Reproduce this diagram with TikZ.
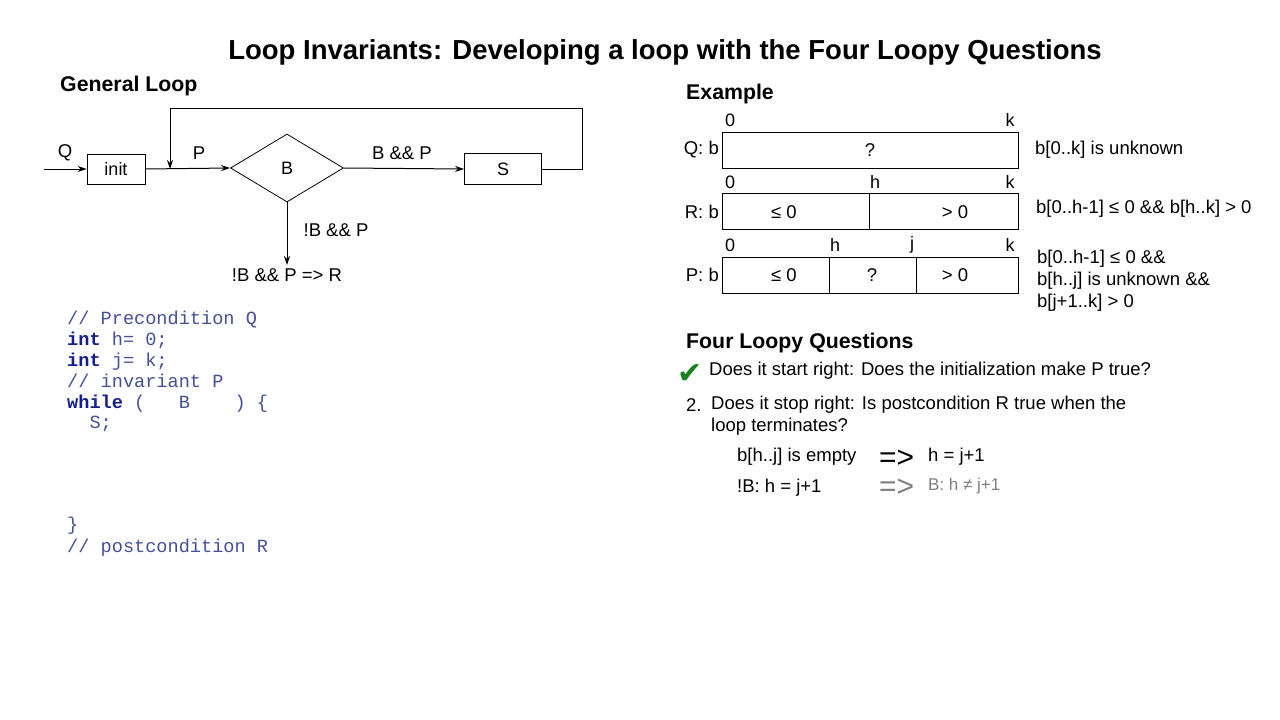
\documentclass[tikz,border=0pt]{standalone}
\usepackage{fontspec}
\setmainfont{Liberation Sans}
\setmonofont{Liberation Mono}
\newfontfamily\djv{DejaVu Sans}
\usetikzlibrary{shapes.geometric,arrows.meta}
\definecolor{codeblue}{RGB}{70,80,150}
\definecolor{kwblue}{RGB}{20,30,140}
\definecolor{chk}{RGB}{20,130,30}
\begin{document}
\begin{tikzpicture}[x=1pt,y=-1pt,
  txt/.style={inner sep=0pt,font=\fontsize{18.5}{22}\selectfont},
  hd/.style={inner sep=0pt,anchor=west,font=\fontsize{21.3}{24}\selectfont\bfseries},
  box/.style={draw,line width=0.8pt,minimum height=36pt,inner sep=0pt},
  arr/.style={-{Stealth[length=9pt,width=6pt]},line width=1pt},
  code/.style={inner sep=0pt,anchor=west,text height=13pt,text depth=4pt,text=codeblue,font=\fontsize{18.6}{20}\ttfamily},
  idx/.style={inner sep=0pt,font=\fontsize{18}{20}\selectfont}]
\useasboundingbox[fill=white] (0,0) rectangle (1280,720);
\node[inner sep=0pt,font=\fontsize{27.5}{30}\selectfont\bfseries] (title) at (665,52) {Loop Invariants: Developing a loop with the Four Loopy Questions};
\node[hd] (gl) at (60,86) {General Loop};
% flow chart
\node[draw,line width=0.8pt,minimum width=58pt,minimum height=30pt,inner sep=0pt,font=\fontsize{18}{20}\selectfont] (init) at (116,169) {init};
\node[draw,line width=0.8pt,minimum width=77pt,minimum height=31pt,inner sep=0pt,font=\fontsize{18}{20}\selectfont] (S) at (503,169) {S};
\node[draw,diamond,aspect=1.65,line width=0.8pt,minimum width=113pt,minimum height=68pt,inner sep=0pt,font=\fontsize{18}{20}\selectfont] (B) at (287,168) {B};
\coordinate (qs) at (44,169);
\coordinate (jn) at (170,169);
\coordinate (c1) at (582,169);
\coordinate (c2) at (582,108);
\coordinate (c3) at (170,108);
\coordinate (ex) at (287,265);
\draw[arr] (qs) -- (init.west);
\draw[arr] (init.east) -- (B.west);
\draw[arr] (B.east) -- (S.west);
\draw[line width=1pt] (S.east) -- (c1) -- (c2) -- (c3);
\draw[arr] (c3) -- (jn);
\draw[arr] (B.south) -- (ex);
\node[txt] (lq) at (65,153) {Q};
\node[txt] (lp) at (199,153) {P};
\node[txt] (lbp) at (402,153) {B \&\& P};
\node[txt] (lnb) at (336,230) {!B \&\& P};
\node[txt] (lr) at (287,275) {!B \&\& P => R};
% code
\node[code] (c1t) at (67,320) {// Precondition Q};
\node[code] (c2t) at (67,341) {\textcolor{kwblue}{\textbf{int}} h= 0;};
\node[code] (c3t) at (67,362) {\textcolor{kwblue}{\textbf{int}} j= k;};
\node[code] (c4t) at (67,383) {// invariant P};
\node[code] (c5t) at (67,404) {\textcolor{kwblue}{\textbf{while}} (~~~B~~~~) \{};
\node[code] (c6t) at (67,424) {~~S;};
\node[code] (c7t) at (67,526) {\}};
\node[code] (c8t) at (67,548) {// postcondition R};
% example
\node[hd] (exh) at (686,94) {Example};
\node[box,minimum width=296pt,anchor=north west] (qb) at (722,132) {};
\node[txt] at (870,150) {?};
\node[txt,anchor=east] (ql) at (719,150) {Q: b};
\node[idx] at (730,120) {0};
\node[idx] at (1010,120) {k};
\node[txt,anchor=west] (qt) at (1035,150) {b[0..k] is unknown};
% R
\node[box,minimum width=147pt,anchor=north west] (r1) at (722,193) {};
\node[box,minimum width=149pt,anchor=north west] (r2) at (869,193) {};
\node[txt] at (784,212) {≤ 0};
\node[txt] at (955,212) {> 0};
\node[txt,anchor=east] (rl) at (719,212) {R: b};
\node[idx] at (730,182) {0};
\node[idx] at (875,182) {h};
\node[idx] at (1010,182) {k};
\node[txt,anchor=west] (rt) at (1036,209) {b[0..h-1] ≤ 0 \&\& b[h..k] > 0};
% P
\node[box,minimum width=107pt,anchor=north west] (p1) at (722,257) {};
\node[box,minimum width=87pt,anchor=north west] (p2) at (829,257) {};
\node[box,minimum width=102pt,anchor=north west] (p3) at (916,257) {};
\node[txt] at (784,275) {≤ 0};
\node[txt] at (872,275) {?};
\node[txt] at (955,275) {> 0};
\node[txt,anchor=east] (pl) at (719,275) {P: b};
\node[idx] at (730,245) {0};
\node[idx] at (835,245) {h};
\node[idx] at (912,245) {j};
\node[idx] at (1010,245) {k};
\node[txt,anchor=west] at (1037,259) {b[0..h-1] ≤ 0 \&\&};
\node[txt,anchor=west] at (1037,281) {b[h..j] is unknown \&\&};
\node[txt,anchor=west] at (1037,303) {b[j+1..k] > 0};
% questions
\node[hd] (flq) at (686,343) {Four Loopy Questions};
\node[inner sep=0pt,text=chk,font=\fontsize{30}{30}\djv] (ck) at (690,374) {✔};
\node[txt,anchor=west] at (709,371) {Does it start right: Does the initialization make P true?};
\node[txt,anchor=west] at (686,405) {2.};
\node[txt,anchor=west] at (711,405) {Does it stop right: Is postcondition R true when the};
\node[txt,anchor=west] at (711,427) {loop terminates?};
\node[txt,anchor=west] at (737,457) {b[h..j] is empty};
\node[inner sep=0pt,anchor=west,font=\fontsize{30}{30}\selectfont] at (879,459) {=>};
\node[txt,anchor=west] at (928,457) {h = j+1};
\node[txt,anchor=west] at (737,488) {!B: h = j+1};
\node[inner sep=0pt,anchor=west,text=gray,font=\fontsize{30}{30}\selectfont] at (879,488) {=>};
\node[inner sep=0pt,anchor=west,text=gray,font=\fontsize{17}{18}\selectfont] at (928,486) {B: h ≠ j+1};
\end{tikzpicture}
\end{document}
